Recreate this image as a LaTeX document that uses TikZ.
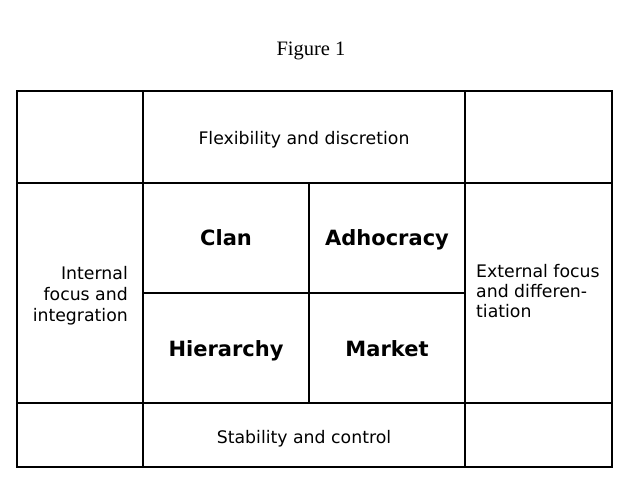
\documentclass[tikz,border=0pt]{standalone}
\usepackage{fontspec}
\setmainfont{DejaVu Sans}
\newfontfamily\serifcap{Liberation Serif}
\begin{document}
\begin{tikzpicture}[x=1pt,y=-1pt,
  cell/.style={draw=black,line width=1.6pt,anchor=north west,inner sep=0pt,outer sep=0pt},
  lbl/.style={font=\fontsize{17.3}{20}\selectfont,anchor=base,inner sep=0pt},
  bold/.style={font=\fontsize{21}{24}\selectfont\bfseries,anchor=base,inner sep=0pt},
  side/.style={font=\fontsize{17.3}{21}\selectfont,inner sep=0pt}]
\useasboundingbox (0,0) rectangle (625,500);
\node[font=\serifcap\fontsize{20.5}{24}\selectfont,anchor=base,inner sep=0pt] (fig) at (311,56) {Figure 1};
\node[cell,minimum width=126pt,minimum height=92pt] (tl) at (17,91) {};
\node[cell,minimum width=322pt,minimum height=92pt] (top) at (143,91) {};
\node[cell,minimum width=147pt,minimum height=92pt] (tr) at (465,91) {};
\node[cell,minimum width=126pt,minimum height=220pt] (left) at (17,183) {};
\node[cell,minimum width=166pt,minimum height=110pt] (clan) at (143,183) {};
\node[cell,minimum width=156pt,minimum height=110pt] (adh) at (309,183) {};
\node[cell,minimum width=166pt,minimum height=110pt] (hier) at (143,293) {};
\node[cell,minimum width=156pt,minimum height=110pt] (mkt) at (309,293) {};
\node[cell,minimum width=147pt,minimum height=220pt] (right) at (465,183) {};
\node[cell,minimum width=126pt,minimum height=64pt] (bl) at (17,403) {};
\node[cell,minimum width=322pt,minimum height=64pt] (bot) at (143,403) {};
\node[cell,minimum width=147pt,minimum height=64pt] (br) at (465,403) {};
\node[lbl] (topt) at (top.center |- 0,145) {Flexibility and discretion};
\node[lbl] (bott) at (bot.center |- 0,443) {Stability and control};
\node[bold] (clant) at (clan.center |- 0,246) {Clan};
\node[bold] (adht) at (adh.center |- 0,246) {Adhocracy};
\node[bold] (hiert) at (hier.center |- 0,356) {Hierarchy};
\node[bold] (mktt) at (mkt.center |- 0,356) {Market};
\node[side,align=right,anchor=base east] (int) at (128,322) {Internal\\focus and\\integration};
\node[side,align=left,anchor=base west,font=\fontsize{17.3}{20}\selectfont] (ext) at (476,318) {External focus\\and differen-\\tiation};
\end{tikzpicture}
\end{document}
